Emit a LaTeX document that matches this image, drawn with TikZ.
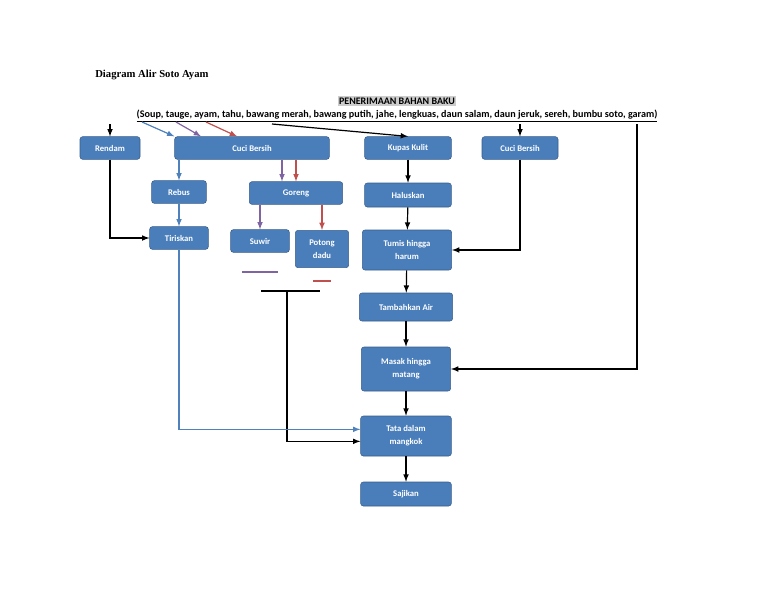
\documentclass[tikz,border=0pt]{standalone}
\usepackage{fontspec}
\setmainfont{Carlito}
\newfontfamily\titlefont{Liberation Serif}
\definecolor{boxfill}{HTML}{4A7EBB}
\definecolor{boxline}{HTML}{385D8A}
\definecolor{bluearr}{HTML}{4F81BD}
\definecolor{purplearr}{HTML}{8064A2}
\definecolor{redarr}{HTML}{C0504D}
\begin{document}
\begin{tikzpicture}
          [x=0.75pt,y=-0.75pt,
           every node/.style={inner sep=0pt},
           proses/.style={draw=boxline,fill=boxfill,rounded corners=2pt,text=white,font=\fontsize{6.5}{8}\selectfont\bfseries,align=center},
           blk/.style={->,>=latex,line width=0.9pt},
           blu/.style={->,>=latex,line width=0.9pt,bluearr},
           pur/.style={->,>=latex,line width=0.9pt,purplearr},
           rd/.style={->,>=latex,line width=0.9pt,redarr}]
        \useasboundingbox (0,0) rectangle (768,594);

        \node[anchor=west,font=\titlefont\fontsize{8}{9}\selectfont\bfseries] (title) at (95,75) {Diagram Alir Soto Ayam};
        \node[fill=black!20,inner sep=1pt,font=\fontsize{7.5}{9}\selectfont\bfseries] (head) at (397,101) {PENERIMAAN BAHAN BAKU};
        \node[font=\fontsize{7.6}{9}\selectfont\bfseries] (bahan) at (397,116) {\underline{(Soup, tauge, ayam, tahu, bawang merah, bawang putih, jahe, lengkuas, daun salam, daun jeruk, sereh, bumbu soto, garam)}};

        \node[proses,minimum width=45pt,minimum height=17pt] (rendam) at (110,148) {Rendam};
        \node[proses,minimum width=116pt,minimum height=17pt] (cuci) at (252,148) {Cuci Bersih};
        \node[proses,minimum width=65pt,minimum height=17pt] (kupas) at (408,148) {Kupas Kulit};
        \node[proses,minimum width=57pt,minimum height=17pt] (cuci2) at (520,148) {Cuci Bersih};

        \node[proses,minimum width=41pt,minimum height=17pt] (rebus) at (179,192) {Rebus};
        \node[proses,minimum width=70pt,minimum height=17pt] (goreng) at (296,193) {Goreng};
        \node[proses,minimum width=65pt,minimum height=18pt] (halus) at (408,195) {Haluskan};

        \node[proses,minimum width=44pt,minimum height=17pt] (tiris) at (179,238) {Tiriskan};
        \node[proses,minimum width=44pt,minimum height=17pt] (suwir) at (260,241) {Suwir};
        \node[proses,minimum width=40pt,minimum height=28pt] (potong) at (322,249) {Potong\\[2pt]dadu};
        \node[proses,minimum width=67pt,minimum height=30pt] (tumis) at (407,250) {Tumis hingga\\[2pt]harum};
        \node[proses,minimum width=70pt,minimum height=21pt] (tambah) at (406,307) {Tambahkan Air};
        \node[proses,minimum width=67pt,minimum height=33pt] (masak) at (406,369) {Masak hingga\\[2pt]matang};
        \node[proses,minimum width=68pt,minimum height=30pt] (tata) at (406,436) {Tata dalam\\[2pt]mangkok};
        \node[proses,minimum width=68pt,minimum height=18pt] (saji) at (406,494) {Sajikan};

        % free ends under the ingredient line
        \coordinate (soup) at (110,124);
        \coordinate (tauge) at (142,122);
        \coordinate (ayam) at (176,122);
        \coordinate (tahu) at (206,122);
        \coordinate (bawang) at (272,124);
        \coordinate (daun) at (520,124);
        \coordinate (garam) at (637,124);
        \coordinate (tbar) at (287,291);
        \coordinate (pur1) at (282,160);
        \coordinate (red1) at (296,160);

        \draw[blk] (soup) -- (rendam);
        \draw[blu] (tauge) -- (cuci.north west);
        \draw[pur] (ayam) -- ([xshift=20]cuci.north west);
        \draw[rd] (tahu) -- ([xshift=47]cuci.north west);
        \draw[blk] (bawang) -- (kupas.north);
        \draw[blk] (daun) -- (cuci2);
        \draw[blk] (garam) |- (masak.east);

        \draw[blk] (rendam) |- (tiris.west);
        \draw[blu] (rebus.north |- cuci.south) -- (rebus);
        \draw[blu] (rebus) -- (tiris);
        \draw[pur] (pur1) -- (pur1 |- goreng.north);
        \draw[rd] (red1) -- (red1 |- goreng.north);
        \draw[pur] (suwir.north |- goreng.south) -- (suwir);
        \draw[rd] (potong.north |- goreng.south) -- (potong);
        \draw[purplearr,line width=1.2pt] (242,272) -- (278,272);
        \draw[redarr,line width=1.2pt] (313,281) -- (331,281);
        \draw[line width=1pt] (261,291) -- (320,291);
        \draw[blk] (tbar) |- ([yshift=-4]tata.west);
        \draw[blu] (tiris) |- ([yshift=5]tata.west);
        \draw[blk] (cuci2) |- (tumis.east);

        \foreach \from/\to in {kupas/halus, halus/tumis, tumis/tambah, tambah/masak, masak/tata, tata/saji}
          \draw[blk] (\from) -- (\to);
      \end{tikzpicture}
\end{document}
